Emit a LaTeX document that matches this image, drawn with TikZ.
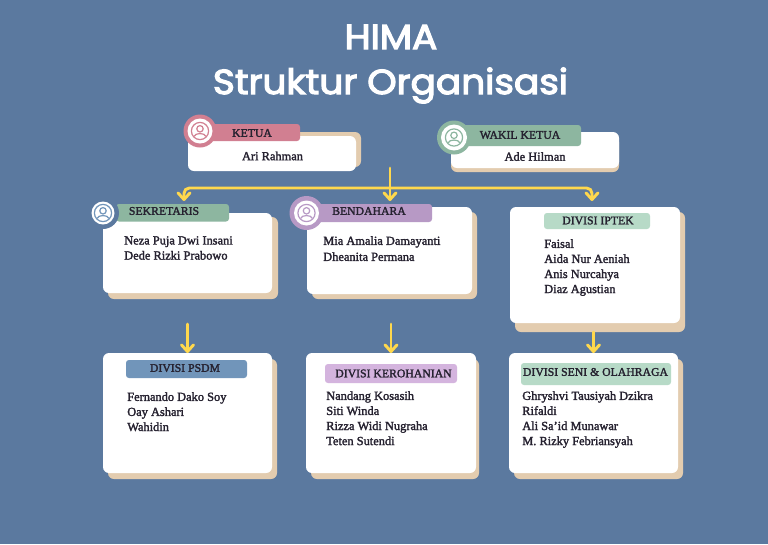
\documentclass[tikz,border=0pt]{standalone}
\usepackage{fontspec}
\setmainfont{Liberation Serif}[FakeBold=2]
\newfontfamily\titlefont{Poppins}[FakeBold=3.5,FakeStretch=1.08]
\usetikzlibrary{fit,arrows.meta}
\definecolor{bgblue}{HTML}{5B799F}
\definecolor{tan}{HTML}{E3CCAF}
\definecolor{rosec}{HTML}{D17F91}
\definecolor{sage}{HTML}{8DB6A0}
\definecolor{lilac}{HTML}{B799C5}
\definecolor{lilacl}{HTML}{D4B4DE}
\definecolor{mint}{HTML}{B7DAC7}
\definecolor{steel}{HTML}{7195BA}
\definecolor{arrowy}{HTML}{FFD84D}
\definecolor{ink}{HTML}{262230}
\tikzset{
  x=0.75pt,y=-0.75pt,
  card/.style={fit={#1},inner sep=0pt,outer sep=0pt,fill=white,rounded corners=4.5pt},
  shade/.style={fit={#1},inner sep=0pt,outer sep=0pt,fill=tan,rounded corners=4.5pt},
  tag/.style 2 args={fit={#2},inner sep=0pt,outer sep=0pt,fill=#1,rounded corners=2.2pt},
  tagtext/.style={inner sep=0pt,text=ink,font=\fontsize{8.8pt}{10pt}\selectfont},
  names/.style={inner sep=0pt,anchor=north west,align=left,text=ink,font=\fontsize{9.3pt}{11.3pt}\selectfont},
  single/.style={inner sep=0pt,text=ink,font=\fontsize{9.3pt}{11pt}\selectfont},
  titletext/.style={inner sep=0pt,anchor=base,text=white,font=\titlefont\fontsize{26pt}{30pt}\selectfont},
  flow/.style={draw=arrowy,line width=2.2pt,line cap=round,line join=round,rounded corners=4pt,
     -{Straight Barb[length=5pt,width=9pt,line width=2.2pt,round]}},
  disc/.style={circle,inner sep=0pt,outer sep=0pt,minimum size=#1*0.75pt},
}
\newcommand{\personicon}[3]{% x, y, colour
  \begin{scope}[shift={(#1,#2)}]
    \draw[#3,line width=0.9pt] (0,0) circle[radius=8.6];
    \draw[#3,line width=0.9pt] (0,-2.2) circle[radius=3.2];
    \draw[#3,line width=0.9pt] (-5.8,5.4) .. controls (-5,1.6) and (5,1.6) .. (5.8,5.4);
  \end{scope}}
\begin{document}
\begin{tikzpicture}
\useasboundingbox[fill=bgblue] (0,0) rectangle (768,544);
% titles
\node[titletext] (t1) at (391,49) {HIMA};
\node[titletext] (t2) at (390.5,94) {Struktur Organisasi};
% shadows
\node[shade={(193,132)(361,167)}] (s1) {};
\node[shade={(451,136)(619,172)}] (s2) {};
\node[shade={(108,217)(278,299)}] (s3) {};
\node[shade={(312,212)(477,299)}] (s4) {};
\node[shade={(515,212)(685,332)}] (s5) {};
\node[shade={(108,359)(277,479)}] (s6) {};
\node[shade={(311,359)(479,479)}] (s7) {};
\node[shade={(514,359)(683,479)}] (s8) {};
% cards
\node[card={(188,136)(356,171)}] (ketua) {};
\node[card={(451,132)(619,168)}] (wakil) {};
\node[card={(103,213)(272,293)}] (sekre) {};
\node[card={(307,207)(472,294)}] (benda) {};
\node[card={(510,207)(680,323)}] (iptek) {};
\node[card={(103,353)(272,473)}] (psdm) {};
\node[card={(306,353)(476,473)}] (kero) {};
\node[card={(509,353)(678,473)}] (seni) {};
% tags
\node[tag={rosec}{(195,124)(300,141)}] (tk) {};
\node[tag={sage}{(455,125)(581,146)}] (tw) {};
\node[tag={sage}{(116,204)(229,221.5)}] (ts) {};
\node[tag={lilac}{(310,204)(432,222)}] (tb) {};
\node[tag={mint}{(544,213)(650,229)}] (ti) {};
\node[tag={steel}{(126,360)(247,378)}] (tp) {};
\node[tag={lilacl}{(325,364)(457,383)}] (tr) {};
\node[tag={mint}{(521,363)(671,385)}] (to) {};
% discs
\node[disc=33,fill=rosec] (d1) at (200,131) {};
\node[disc=25,fill=white] (d1w) at (d1) {};
\node[disc=34,fill=sage] (d2) at (454,137.5) {};
\node[disc=26,fill=white] (d2w) at (d2) {};
\node[disc=32,fill=bgblue] (d3) at (103,213) {};
\node[disc=23,fill=white] (d3w) at (d3) {};
\node[disc=34,fill=lilac] (d4) at (306.5,213) {};
\node[disc=25,fill=white] (d4w) at (d4) {};
\personicon{200}{131}{rosec}
\personicon{454}{137.5}{sage}
\personicon{103}{213}{steel}
\personicon{306.5}{213}{lilac}
% tag texts
\node[tagtext] (l1) at (252,133) {KETUA};
\node[tagtext] (l2) at (520,135) {WAKIL KETUA};
\node[tagtext] (l3) at (164,211) {SEKRETARIS};
\node[tagtext] (l4) at (369,211) {BENDAHARA};
\node[tagtext] (l5) at (598,220.5) {DIVISI IPTEK};
\node[tagtext] (l6) at (185,368) {DIVISI PSDM};
\node[tagtext] (l7) at (393.5,373.5) {DIVISI KEROHANIAN};
\node[tagtext] (l8) at (595.5,372) {DIVISI SENI \& OLAHRAGA};
% names
\node[single] (n1) at (272.5,156) {Ari Rahman};
\node[single] (n2) at (535,156.5) {Ade Hilman};
\node[names,font=\fontsize{9.3pt}{11.3pt}\selectfont] (n3) at (124,236) {Neza Puja Dwi Insani\\Dede Rizki Prabowo};
\node[names,font=\fontsize{9.3pt}{12pt}\selectfont] (n4) at (323,236) {Mia Amalia Damayanti\\Dheanita Permana};
\node[names] (n5) at (544,239) {Faisal\\Aida Nur Aeniah\\Anis Nurcahya\\Diaz Agustian};
\node[names] (n6) at (127,392) {Fernando Dako Soy\\Oay Ashari\\Wahidin};
\node[names] (n7) at (326,391) {Nandang Kosasih\\Siti Winda\\Rizza Widi Nugraha\\Teten Sutendi};
\node[names] (n8) at (522,391) {Ghryshvi Tausiyah Dzikra\\Rifaldi\\Ali Sa'id Munawar\\M. Rizky Febriansyah};
% connectors
\coordinate (top) at (390,168);
\coordinate (hub) at (390,188);
\coordinate (endL) at (184,201);
\coordinate (endM) at (390,201);
\coordinate (endR) at (592,201);
\coordinate (c6) at (187.5,324);
\coordinate (c7) at (391,324);
\coordinate (c8) at (593.5,332);
\draw[flow] (top) -- (endM);
\draw[flow] (hub) -- (184,188) -- (endL);
\draw[flow] (hub) -- (592,188) -- (endR);
\draw[flow] (c6) -- (psdm.north);
\draw[flow] (c7) -- (c7 |- kero.north);
\draw[flow] (c8) -- (c8 |- seni.north);
\end{tikzpicture}
\end{document}
